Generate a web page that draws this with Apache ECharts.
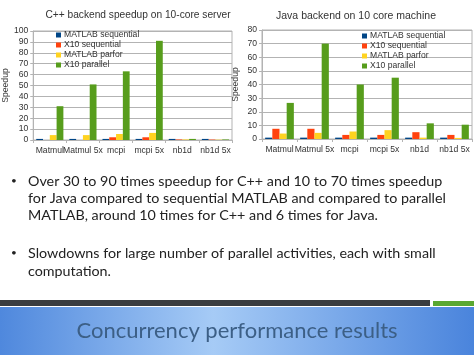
<!DOCTYPE html>
<html><head><meta charset="utf-8">
<script src="https://cdn.jsdelivr.net/npm/echarts@6/dist/echarts.min.js"></script>
<style>html,body{margin:0;padding:0;background:#fff}#c{width:474px;height:355px}</style>
</head><body><div id="c"></div>
<script>
const categories = ['Matmul', 'Matmul 5x', 'mcpi', 'mcpi 5x', 'nb1d', 'nb1d 5x'];
const seriesNames = ['MATLAB sequential', 'X10 sequential', 'MATLAB parfor', 'X10 parallel'];
const colors = ['#004586', '#ff420e', '#ffd320', '#579d1c'];
// C++ backend
const cppMatlabSeq = [1, 1, 1, 1, 1, 1];
const cppX10Seq = [0, 0, 2.5, 2.5, 0.5, 0.4];
const cppParfor = [4.5, 4.5, 5.5, 6.5, 0.5, 0.3];
const cppX10Par = [31, 51, 63, 91, 1, 0.5];
// Java backend
const javaMatlabSeq = [1, 1, 1, 1, 1, 1];
const javaX10Seq = [7.5, 7.5, 3, 3, 5, 3];
const javaParfor = [4, 4.5, 5.5, 6.5, 1, 0.8];
const javaX10Par = [26.5, 70, 40, 45, 11.5, 10.5];
const cppTicks = [0, 100, 10];
const javaTicks = [0, 80, 10];

const chartTitles = ['C++ backend speedup on 10-core server', 'Java backend on 10 core machine'];
const bulletLines1 = ['Over 30 to 90 times speedup for C++ and 10 to 70 times speedup',
  'for Java compared to sequential MATLAB and compared to parallel',
  'MATLAB, around 10 times for C++ and 6 times for Java.'];
const bulletLines2 = ['Slowdowns for large number of parallel activities, each with small',
  'computation.'];
const slideTitle = 'Concurrency performance results';

const chart = echarts.init(document.getElementById('c'), null, {renderer: 'canvas'});
const font = 'Liberation Sans, Arial, sans-serif';
const bodyFont = 'Lato, Open Sans, sans-serif';
const small = 8.6;

function yAx(gi, t) {
  return {gridIndex: gi, type: 'value', min: t[0], max: t[1], interval: t[2],
    name: 'Speedup', nameLocation: 'middle', nameGap: gi === 0 ? 21 : 22, nameRotate: 90,
    nameTextStyle: {fontSize: small, color: '#333', fontFamily: font},
    axisLine: {show: true, lineStyle: {color: '#b3b3b3'}}, axisTick: {show: true, length: 3, lineStyle: {color: '#b3b3b3'}},
    axisLabel: {fontSize: small, color: '#333', fontFamily: font, margin: 5},
    splitLine: {show: true, lineStyle: {color: '#b3b3b3', width: 1}}};
}
function xAx(gi) {
  return {gridIndex: gi, type: 'category', data: categories,
    axisLine: {show: true, lineStyle: {color: '#b3b3b3'}},
    axisTick: {show: true, length: 3, lineStyle: {color: '#b3b3b3'}},
    splitLine: {show: false},
    axisLabel: {fontSize: small, color: '#333', fontFamily: font, margin: 6, interval: 0}};
}
const cppData = [cppMatlabSeq, cppX10Seq, cppParfor, cppX10Par];
const javaData = [javaMatlabSeq, javaX10Seq, javaParfor, javaX10Par];
const series = [];
[cppData, javaData].forEach((d, gi) => {
  d.forEach((arr, i) => {
    series.push({type: 'bar', name: seriesNames[i], xAxisIndex: gi, yAxisIndex: gi,
      data: arr, barGap: '0%', barCategoryGap: '18%', itemStyle: {color: colors[i]}});
  });
});

function textEl(x, y, t, size, color, fam, align) {
  return {type: 'text', x: x, y: y,
    style: {text: t, fontSize: size, fill: color, fontFamily: fam, textAlign: align || 'left', textVerticalAlign: 'middle'}};
}
const graphics = [];
// slide band
graphics.push({type: 'rect', shape: {x: 0, y: 300, width: 430, height: 6}, style: {fill: '#3a3d40'}});
graphics.push({type: 'rect', shape: {x: 433, y: 301, width: 41, height: 5}, style: {fill: '#5aa832'}});
graphics.push({type: 'rect', shape: {x: 0, y: 307, width: 474, height: 48},
  style: {fill: new echarts.graphic.LinearGradient(0, 0, 1, 0, [
    {offset: 0, color: '#4f88dd'}, {offset: 0.45, color: '#a6cbf6'}, {offset: 1, color: '#4a84dc'}])}});
graphics.push(textEl(237, 331, slideTitle, 22, '#3c5f86', bodyFont, 'center'));
// bullets
const lh = 17;
graphics.push(textEl(11, 181, '•', 10, '#222', bodyFont));
bulletLines1.forEach((t, i) => graphics.push(textEl(28, 181 + i * lh, t, 14.3, '#222', bodyFont)));
graphics.push(textEl(11, 253, '•', 10, '#222', bodyFont));
bulletLines2.forEach((t, i) => graphics.push(textEl(28, 253 + i * 18.5, t, 14.3, '#222', bodyFont)));
// chart titles
graphics.push(textEl(138, 15, chartTitles[0], 10.2, '#333', font, 'center'));
graphics.push(textEl(356, 16, chartTitles[1], 10.5, '#333', font, 'center'));

function legend(left, top) {
  return {left: left, top: top, orient: 'vertical', itemWidth: 5, itemHeight: 5, itemGap: 0, icon: 'rect',
    textStyle: {fontSize: small, lineHeight: 10, color: '#333', fontFamily: font, padding: [0, 0, 0, -2]},
    data: seriesNames, padding: 0};
}

chart.setOption({
  animation: false,
  grid: [
    {left: 32, top: 31, width: 200, height: 109, containLabel: false, show: true, borderColor: '#b3b3b3', borderWidth: 1},
    {left: 262, top: 30, width: 210, height: 109, containLabel: false, show: true, borderColor: '#b3b3b3', borderWidth: 1}
  ],
  xAxis: [xAx(0), xAx(1)],
  yAxis: [yAx(0, cppTicks), yAx(1, javaTicks)],
  legend: [legend(56, 30), legend(362, 31)],
  series: series,
  graphic: graphics
});
</script></body></html>
